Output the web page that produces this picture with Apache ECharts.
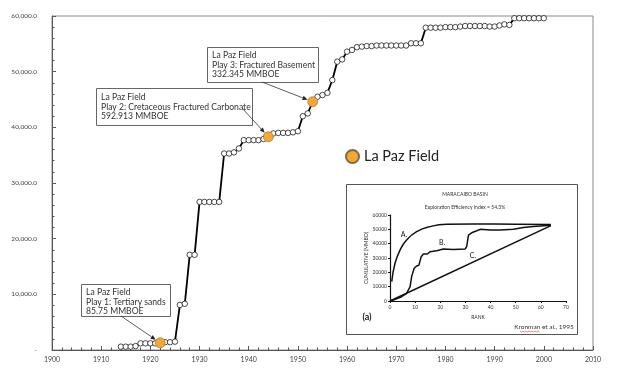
<!DOCTYPE html>
<html>
<head>
<meta charset="utf-8">
<script src="https://cdn.jsdelivr.net/npm/echarts@6/dist/echarts.min.js"></script>
<style>
  html, body { margin: 0; padding: 0; background: #fff; }
  #main { width: 619px; height: 375px; }
</style>
</head>
<body>
<div id="main"></div>
<script>
// main series: cumulative discovered volume by year
const years = [1914, 1915, 1916, 1917, 1918, 1919, 1920, 1921, 1922, 1923, 1924, 1925,
  1926, 1927, 1928, 1929, 1930, 1931, 1932, 1933, 1934, 1935, 1936, 1937, 1938, 1939,
  1940, 1941, 1942, 1943, 1944, 1945, 1946, 1947, 1948, 1949, 1950, 1951, 1952, 1953,
  1954, 1955, 1956, 1957, 1958, 1959, 1960, 1961, 1962, 1963, 1964, 1965, 1966, 1967,
  1968, 1969, 1970, 1971, 1972, 1973, 1974, 1975, 1976, 1977, 1978, 1979, 1980, 1981,
  1982, 1983, 1984, 1985, 1986, 1987, 1988, 1989, 1990, 1991, 1992, 1993, 1994, 1995,
  1996, 1997, 1998, 1999, 2000];
const cumulative = [600, 600, 600, 700, 1200, 1200, 1200, 1200, 1300, 1400, 1400, 1500,
  8100, 8300, 17100, 17100, 26600, 26600, 26600, 26600, 26600, 35300, 35300, 35500, 36200, 37700,
  37700, 37700, 37700, 37900, 38300, 38900, 39000, 39000, 39000, 39100, 39300, 42000, 42500, 44600,
  45500, 45800, 46200, 48500, 51800, 52200, 53600, 53900, 54400, 54500, 54600, 54600, 54700, 54700,
  54700, 54700, 54700, 54700, 54700, 55100, 55100, 55100, 57900, 57900, 57900, 57900, 58000, 58000,
  58000, 58100, 58200, 58200, 58200, 58200, 58200, 58100, 58100, 58300, 58500, 58400, 59600, 59600,
  59600, 59600, 59600, 59600, 59600];

// La Paz Field plays
const playYears = [1922, 1944, 1953];
const playValues = [1300, 38300, 44600];
const playNotes = [
  ["La Paz Field", "Play 1: Tertiary sands", "85.75 MMBOE"],
  ["La Paz Field", "Play 2: Cretaceous Fractured Carbonate", "592.913 MMBOE"],
  ["La Paz Field", "Play 3: Fractured Basement", "332.345 MMBOE"]
];

// inset (Kronman et al., 1995) - Maracaibo basin creaming curves
const rankA = [0.7, 2, 4, 6.6, 10.6, 15.9, 22.6, 33.2, 50, 64];
const cumA = [13500, 26300, 35600, 42600, 48400, 51900, 53500, 53700, 53600, 53300];
const rankB = [0, 1.3, 4.6, 6.6, 8, 8.6, 9.6, 10.6, 11.5, 12.4, 13.3, 14.9, 15.9, 18.6, 21.2,
  25.2, 29.9, 30.5, 31.2, 32.5, 34.5, 35.9, 39.8, 43.8, 49.1, 53, 57, 62.4, 64];
const cumB = [0, 700, 3000, 5400, 10000, 17000, 22800, 24400, 25000, 30900, 32800, 32800, 34400,
  35000, 36300, 36000, 36300, 37900, 46000, 47600, 49000, 50000, 49600, 49600, 50000, 51200,
  51900, 52600, 52600];
const rankC = [0, 64];
const cumC = [0, 52600];

const zip = (a, b) => a.map((v, i) => [v, b[i]]);
const FONT = "Lato";

const chart = echarts.init(document.getElementById("main"));

chart.setOption({
  animation: false,
  textStyle: { fontFamily: FONT },
  legend: {
    data: ["La Paz Field"],
    left: 340,
    top: 144,
    icon: "circle",
    itemWidth: 13,
    itemHeight: 13,
    itemGap: 4,
    textStyle: { fontSize: 14.5, color: "#222", fontFamily: FONT }
  },
  grid: [
    {
      left: 52, right: 26, top: 16, bottom: 25,
      show: true, borderColor: "#8a8a8a", borderWidth: 1
    },
    { left: 390, right: 53, top: 215, bottom: 74 }
  ],
  xAxis: [
    {
      type: "value", gridIndex: 0,
      min: 1900, max: 2010, interval: 10,
      axisLine: { lineStyle: { color: "#555", width: 1 } },
      axisTick: { inside: true, length: 4, lineStyle: { color: "#555" } },
      minorTick: { show: true, splitNumber: 5, length: 2.5, lineStyle: { color: "#555" } },
      splitLine: { show: false },
      axisLabel: { fontSize: 7, color: "#444", margin: 6, formatter: v => String(v) }
    },
    {
      type: "value", gridIndex: 1,
      min: 0, max: 70, interval: 10,
      axisLine: { lineStyle: { color: "#111", width: 1.2 } },
      axisTick: { length: 2, lineStyle: { color: "#111" } },
      splitLine: { show: false },
      axisLabel: { fontSize: 5, color: "#333", margin: 4, formatter: v => String(v) },
      name: "RANK", nameLocation: "middle", nameGap: 14,
      nameTextStyle: { fontSize: 5, color: "#333" }
    }
  ],
  yAxis: [
    {
      type: "value", gridIndex: 0,
      min: 0, max: 60000, interval: 10000,
      axisLine: { show: true, lineStyle: { color: "#555", width: 1 } },
      axisTick: { show: true, inside: true, length: 4, lineStyle: { color: "#555" } },
      minorTick: { show: true, splitNumber: 5, length: 2.5, lineStyle: { color: "#555" } },
      splitLine: { show: false },
      axisLabel: {
        fontSize: 6.5, color: "#444", margin: 15,
        formatter: v => v === 0 ? "-" : v.toLocaleString("en-US", { minimumFractionDigits: 1 })
      }
    },
    {
      type: "value", gridIndex: 1,
      min: 0, max: 60000, interval: 10000,
      axisLine: { show: true, lineStyle: { color: "#111", width: 1.2 } },
      axisTick: { show: true, length: 2, lineStyle: { color: "#111" } },
      splitLine: { show: false },
      axisLabel: { fontSize: 5, color: "#333", margin: 3, formatter: v => String(v) },
      name: "CUMULATIVE (MMBO)", nameLocation: "middle", nameGap: 18,
      nameTextStyle: { fontSize: 5, color: "#333" }
    }
  ],
  series: [
    {
      name: "Cumulative",
      type: "line",
      xAxisIndex: 0, yAxisIndex: 0,
      data: zip(years, cumulative),
      symbol: "circle",
      symbolSize: 5.5,
      lineStyle: { color: "#000", width: 1.8 },
      itemStyle: { color: "#fff", borderColor: "#000", borderWidth: 0.7 },
      z: 3
    },
    {
      name: "La Paz Field",
      type: "scatter",
      xAxisIndex: 0, yAxisIndex: 0,
      data: zip(playYears, playValues),
      symbolSize: 10,
      itemStyle: { color: "#F7A731", borderColor: "#7d6a4a", borderWidth: 0.6, opacity: 1 },
      z: 5
    },
    {
      name: "A", type: "line", xAxisIndex: 1, yAxisIndex: 1,
      data: zip(rankA, cumA), smooth: true, showSymbol: false,
      lineStyle: { color: "#111", width: 1.5 }, z: 12
    },
    {
      name: "B", type: "line", xAxisIndex: 1, yAxisIndex: 1,
      data: zip(rankB, cumB), showSymbol: false,
      lineStyle: { color: "#111", width: 1.5 }, z: 12
    },
    {
      name: "C", type: "line", xAxisIndex: 1, yAxisIndex: 1,
      data: zip(rankC, cumC), showSymbol: false,
      lineStyle: { color: "#111", width: 1.5 }, z: 12
    }
  ]
});

// annotation boxes, arrows and inset frame
const boxes = [
  { x: 81, y: 284, w: 89, h: 32, tx: 86, ty: 288, sx: 121, sy: 316 },
  { x: 96, y: 88, w: 156, h: 37, tx: 101, ty: 93, sx: 242, sy: 108 },
  { x: 207, y: 47, w: 111, h: 35, tx: 212, ty: 51, sx: 262, sy: 82 }
];

const graphics = [];
graphics.push({
  type: "rect", z: 0,
  shape: { x: 346.5, y: 184.5, width: 231, height: 150 },
  style: { fill: "#fff", stroke: "#555", lineWidth: 1 }
});
graphics.push({
  type: "text", z: 20, x: 465, y: 194,
  style: { text: "MARACAIBO BASIN", font: "5px " + FONT, fill: "#333", textAlign: "center", textVerticalAlign: "middle" }
});
graphics.push({
  type: "text", z: 20, x: 465, y: 207,
  style: { text: "Exploration Efficiency Index = 54.3%", font: "5px " + FONT, fill: "#333", textAlign: "center", textVerticalAlign: "middle" }
});
[["A.", 404, 235], ["B.", 442, 243], ["C.", 473, 256]].forEach(([t, x, y]) => {
  graphics.push({
    type: "text", z: 20, x, y,
    style: { text: t, font: "7px " + FONT, fill: "#111", textAlign: "center", textVerticalAlign: "middle" }
  });
});
graphics.push({
  type: "text", z: 20, x: 367, y: 317,
  style: { text: "(a)", font: "bold 9px " + FONT, fill: "#222", textAlign: "center", textVerticalAlign: "middle" }
});
graphics.push({
  type: "text", z: 20, x: 544, y: 327,
  style: { text: "Kronman et al., 1995", font: "6.5px " + FONT, fill: "#333", textAlign: "center", textVerticalAlign: "middle" }
});
graphics.push({
  type: "polyline", z: 20,
  shape: { points: [[520, 331], [521.5, 332], [523, 331], [524.5, 332], [526, 331], [527.5, 332], [529, 331], [530.5, 332], [532, 331], [533.5, 332], [535, 331], [536.5, 332], [538, 331], [539.5, 332]] },
  style: { stroke: "#e03030", lineWidth: 0.6, fill: null }
});

boxes.forEach((b, i) => {
  graphics.push({
    type: "rect", z: 6,
    shape: { x: b.x + 0.5, y: b.y + 0.5, width: b.w, height: b.h },
    style: { fill: "#fff", stroke: "#666", lineWidth: 1 }
  });
  playNotes[i].forEach((line, k) => {
    graphics.push({
      type: "text", z: 7, x: b.tx, y: b.ty + k * 9.6,
      style: { text: line, font: "8.6px " + FONT, fill: "#333" }
    });
  });
  // arrow from box to the La Paz point
  const p = chart.convertToPixel({ gridIndex: 0 }, [playYears[i], playValues[i]]);
  const dx = p[0] - b.sx, dy = p[1] - b.sy;
  const len = Math.sqrt(dx * dx + dy * dy);
  const ux = dx / len, uy = dy / len;
  const tip = [p[0] - ux * 5.5, p[1] - uy * 5.5];
  const base = [tip[0] - ux * 5, tip[1] - uy * 5];
  graphics.push({
    type: "line", z: 7,
    shape: { x1: b.sx, y1: b.sy, x2: base[0], y2: base[1] },
    style: { stroke: "#333", lineWidth: 0.8 }
  });
  graphics.push({
    type: "polygon", z: 7,
    shape: { points: [tip, [base[0] - uy * 2.2, base[1] + ux * 2.2], [base[0] + uy * 2.2, base[1] - ux * 2.2]] },
    style: { fill: "#222" }
  });
});

chart.setOption({ graphic: graphics });
</script>
</body>
</html>
